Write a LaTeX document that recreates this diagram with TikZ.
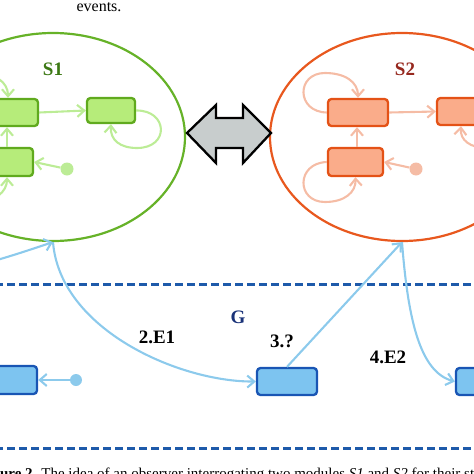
\documentclass[tikz,border=0pt]{standalone}
\usepackage{fontspec}
\setmainfont{Liberation Serif}
\usetikzlibrary{arrows.meta,shapes.geometric}
\definecolor{gEll}{RGB}{102,178,40}
\definecolor{gFill}{RGB}{182,236,122}
\definecolor{gBorder}{RGB}{96,170,30}
\definecolor{gConn}{RGB}{188,236,150}
\definecolor{gText}{RGB}{60,120,20}
\definecolor{oEll}{RGB}{232,88,30}
\definecolor{oFill}{RGB}{250,172,138}
\definecolor{oBorder}{RGB}{228,82,22}
\definecolor{oConn}{RGB}{245,188,165}
\definecolor{oText}{RGB}{150,40,30}
\definecolor{bDash}{RGB}{30,90,170}
\definecolor{bFill}{RGB}{125,196,240}
\definecolor{bBorder}{RGB}{25,85,180}
\definecolor{bConn}{RGB}{140,202,236}
\definecolor{bText}{RGB}{25,50,120}
\definecolor{aGray}{RGB}{200,205,205}
\begin{document}
\begin{tikzpicture}[x=1pt,y=-1pt,
  lbl/.style={font=\fontsize{19}{19}\selectfont\bfseries, inner sep=0},
  boxbase/.style={line width=2.3pt, rounded corners=3.5pt, inner sep=0, minimum height=27pt},
  gbox/.style={boxbase, draw=gBorder, fill=gFill},
  obox/.style={boxbase, draw=oBorder, fill=oFill},
  bbox/.style={boxbase, draw=bBorder, fill=bFill},
  barb/.style={-{Straight Barb[length=7pt,width=12pt]}},
  gconn/.style={draw=gConn, line width=2.1pt, barb},
  oconn/.style={draw=oConn, line width=2.1pt, barb},
  bconn/.style={draw=bConn, line width=2.1pt, barb},
  dotnode/.style={circle, minimum size=13pt, inner sep=0},
  dashline/.style={draw=bDash, line width=3pt, dash pattern=on 8pt off 4pt, dash phase=5pt},
  ell/.style={ellipse, line width=2.2pt, minimum width=264pt, minimum height=208pt, inner sep=0},
]
\useasboundingbox (0,0) rectangle (474,474);
\clip (0,0) rectangle (474,474);

% top text fragment
\node[anchor=base, font=\fontsize{16}{16}\selectfont, inner sep=0] (ev) at (99,11) {events.};

% ellipses
\node[ell, draw=gEll] (S1) at (53,137) {};
\node[ell, draw=oEll] (S2) at (402,137) {};
\node[lbl, text=gText] (S1l) at (53,69) {S1};
\node[lbl, text=oText] (S2l) at (405,69) {S2};

% S1 states
\node[gbox, minimum width=60pt] (A1) at (8,112.5) {};
\node[gbox, minimum width=48pt, minimum height=25pt] (B1) at (111,110.5) {};
\node[gbox, minimum width=52pt, minimum height=28pt] (C1) at (7,162) {};
\node[dotnode, fill=gConn] (d1) at (67,169) {};
\draw[gconn] (A1.east) -- (B1.west);
\draw[gconn] (C1.north) -- (C1.north |- A1.south);
\draw[gconn] (d1) -- (C1.east);
\draw[gconn] (A1.west) .. controls (-54,112) and (-54,73) .. (-25,73) .. controls (-5,73) and (8,82) .. (A1.north);
\draw[gconn] (C1.west) .. controls (-54,163) and (-54,202) .. (-25,202) .. controls (-5,202) and (7,192) .. (C1.south);
\draw[gconn] (B1.east) .. controls (168,110) and (170,148) .. (137,148) .. controls (120,148) and (110,140) .. (B1.south);

% S2 states
\node[obox, minimum width=60pt] (A2) at (358,112.5) {};
\node[obox, minimum width=48pt, minimum height=27pt] (B2) at (461,111.5) {};
\node[obox, minimum width=55pt, minimum height=28pt] (C2) at (355.5,162) {};
\node[dotnode, fill=oConn] (d2) at (416,169) {};
\draw[oconn] (A2.east) -- (B2.west);
\draw[oconn] (C2.north -| A2.south) ++(-1,0) coordinate (c2n) -- (c2n |- A2.south);
\draw[oconn] (d2) -- (C2.east);
\draw[oconn] (A2.west) .. controls (296,112) and (296,73) .. (325,73) .. controls (345,73) and (358,82) .. (A2.north);
\draw[oconn] (C2.west) .. controls (296,163) and (296,202) .. (325,202) .. controls (345,202) and (356,192) .. (C2.south);
\draw[oconn] (B2.east) .. controls (518,111) and (520,148) .. (487,148) .. controls (470,148) and (460,140) .. (B2.south);

% double arrow
\draw[line width=2.3pt, fill=aGray, line join=miter] (187,133) -- (216,105) -- (216,118) -- (243,118) -- (243,105) -- (271,133) -- (243,163) -- (243,148) -- (216,148) -- (216,163) -- cycle;

% dashed separators
\draw[dashline] (0,284) -- (474,284);
\draw[dashline] (0,448) -- (474,448);

% G layer
\node[lbl, text=bText] (Gl) at (238,317) {G};
\node[bbox, minimum width=60pt, minimum height=28pt] (L) at (7,380) {};
\node[bbox, minimum width=60pt] (M) at (287,381.5) {};
\node[bbox, minimum width=60pt] (R) at (486,381.5) {};
\node[dotnode, fill=bConn, minimum size=12pt] (d3) at (76,380) {};
\draw[bconn] (d3) -- (L.east);
\coordinate (in1) at (-10,262);
\draw[bconn] (in1) .. controls (15,255) and (35,248) .. (S1.south);
\draw[bconn] (S1.south) .. controls (60,330) and (180,382) .. (M.west);
\draw[bconn] (M.north) -- (S2.south);
\draw[bconn] (S2.south) .. controls (408,320) and (420,372) .. (R.west);
\node[lbl] (e1) at (157,337) {2.E1};
\node[lbl] (e3) at (282,341) {3.?};
\node[lbl] (e2) at (388,357) {4.E2};

% caption fragment
\node[anchor=base west, inner sep=0, font=\fontsize{15}{15}\selectfont] (cap) at (-21,478) {\textbf{Figure 2.} The idea of an observer interrogating two modules \textit{S1} and \textit{S2} for their states};
\end{tikzpicture}
\end{document}
